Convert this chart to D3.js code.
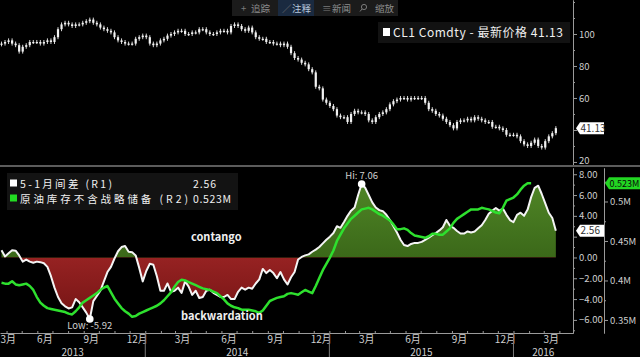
<!DOCTYPE html>
<html>
<head>
<meta charset="utf-8">
<script src="https://cdn.jsdelivr.net/npm/d3@7"></script>
<style>
	body { margin: 0; background: #000; }
	svg { display: block; font-family: "Noto Sans CJK SC", "Noto Sans", sans-serif; }
</style>
</head>
<body>
<svg id="chart" width="640" height="357"></svg>
<script>
// weekly observations, first week ends 2013-03-22
const weekStart = new Date(2013, 2, 22);

// CL1 Comdty weekly close (USD)
const cl1Close = [
	94, 95, 96, 94, 93, 89, 92, 93, 95, 95,
	95, 94, 95, 96, 95, 98, 103, 106, 107, 106,
	105, 106, 106, 107, 108, 109, 107, 106, 104, 103,
	102, 101, 98, 96, 95, 94, 94, 94, 97, 98,
	99, 98, 94, 93, 94, 96, 97, 99, 100, 101,
	102, 102, 100, 100, 101, 101, 103, 103, 101, 100,
	100, 101, 102, 102, 101, 105, 106, 105, 103, 102,
	104, 101, 98, 97, 97, 95, 95, 94, 94, 93,
	94, 92, 88, 85, 84, 82, 81, 78, 76, 67,
	66, 59, 57, 55, 53, 49, 48, 48, 45, 50,
	52, 51, 51, 50, 46, 45, 48, 50, 51, 53,
	56, 58, 59, 60, 60, 59, 60, 60, 60, 60,
	57, 53, 52, 50, 49, 47, 45, 43, 41, 45,
	46, 46, 47, 46, 48, 47, 46, 45, 45, 42,
	42, 41, 40, 37, 37, 37, 36, 33, 31, 30,
	32, 34, 30, 29, 33, 36, 38, 41.13
];
const cl1FirstOpen = 93.5;

// 5-1 month spread (R1)
const spread51 = [
	0.7, 0.1, 0.4, 0.7, 0.65, 0.2, -0.4, -0.2, -0.4, -0.5,
	-0.4, -0.45, -0.55, -0.9, -1.8, -2.9, -3.8, -4.4, -4.7, -4.9,
	-4.8, -4.0, -4.3, -4.8, -5.3, -5.92, -4.2, -3.7, -3.2, -2.3,
	-1.4, -0.9, -0.1, 0.6, 1.0, 1.1, 0.55, 0.5, 0.2, -1.0,
	-2.3, -1.3, -0.6, -0.7, -1.8, -3.2, -3.2, -2.5, -3.3, -3.2,
	-2.9, -3.4, -2.3, -2.8, -3.6, -3.2, -3.9, -3.8, -3.2, -3.1,
	-3.4, -3.6, -3.8, -3.8, -3.6, -4.0, -4.0, -3.3, -2.9, -3.1,
	-2.9, -3.0, -2.5, -2.1, -1.1, -1.5, -1.2, -1.5, -2.0, -1.4,
	-2.1, -2.6, -1.9, -1.4, -0.2, 0.05, 0.2, 0.3, 0.55, 0.75,
	1.0, 1.35, 1.7, 2.0, 2.35, 3.0, 2.85, 3.4, 4.0, 4.5,
	4.8, 6.0, 7.06, 6.7, 6.0, 5.3, 4.8, 4.55, 4.45, 4.1,
	3.6, 3.0, 2.4, 1.7, 1.2, 1.1, 1.3, 1.4, 1.4, 1.5,
	1.7, 1.9, 2.15, 2.35, 2.6, 2.9, 3.6, 3.05, 2.85, 2.55,
	2.3, 2.3, 2.5, 2.4, 2.5, 2.8, 3.1, 3.6, 4.2, 4.5,
	4.75, 4.5, 4.7, 4.1, 3.6, 3.4, 4.1, 4.3, 4.0, 4.6,
	5.8, 6.7, 6.9, 6.1, 5.2, 4.3, 3.8, 2.56
];

// crude stocks ex SPR, shown in M (R2)
const crudeStocks = [
	0.397, 0.396, 0.396, 0.399, 0.395, 0.394, 0.395, 0.396, 0.393, 0.388,
	0.379, 0.372, 0.368, 0.365, 0.364, 0.363, 0.362, 0.361, 0.360, 0.358,
	0.357, 0.361, 0.366, 0.372, 0.375, 0.378, 0.381, 0.384, 0.388, 0.391,
	0.393, 0.385, 0.377, 0.371, 0.365, 0.361, 0.358, 0.354, 0.355, 0.358,
	0.360, 0.362, 0.364, 0.366, 0.368, 0.371, 0.375, 0.380, 0.385, 0.392,
	0.398, 0.401, 0.400, 0.398, 0.396, 0.394, 0.392, 0.390, 0.389, 0.388,
	0.386, 0.384, 0.380, 0.376, 0.371, 0.368, 0.366, 0.365, 0.363, 0.363,
	0.363, 0.362, 0.361, 0.359, 0.362, 0.368, 0.374, 0.376, 0.378, 0.379,
	0.380, 0.383, 0.384, 0.383, 0.382, 0.385, 0.388, 0.386, 0.384, 0.393,
	0.403, 0.413, 0.421, 0.429, 0.438, 0.450, 0.458, 0.466, 0.472, 0.478,
	0.482, 0.486, 0.490, 0.491, 0.492, 0.490, 0.487, 0.484, 0.482, 0.479,
	0.476, 0.471, 0.465, 0.465, 0.466, 0.464, 0.460, 0.457, 0.456, 0.455,
	0.454, 0.456, 0.459, 0.459, 0.458, 0.458, 0.462, 0.466, 0.473, 0.478,
	0.481, 0.484, 0.487, 0.490, 0.490, 0.490, 0.492, 0.491, 0.490, 0.488,
	0.486, 0.485, 0.492, 0.501, 0.503, 0.505, 0.509, 0.515, 0.520, 0.523,
	0.523
];

const quarterLabels = ['3月', '6月', '9月', '12月'];
const yearLabels = ['2013', '2014', '2015', '2016'];
const priceTicks = [20, 40, 60, 80, 100];
const priceMinor = [30, 50, 70, 90, 110, 120];
const r1Ticks = [-6, -4, -2, 0, 2, 4, 6, 8];
const r1Minor = [-7, -5, -3, -1, 1, 3, 5, 7];
const r2Ticks = [0.35, 0.4, 0.45, 0.5];
const r2Minor = [0.375, 0.425, 0.475, 0.525];
const toolbarItems = ['追踪', '注释', '新闻', '缩放'];

const svg = d3.select('#chart');
const plotW = 573;
const top0 = 0, top1 = 165, bot0 = 168, bot1 = 333;
const axisColor = '#9a9a9a', labelColor = '#cfcfcf';

const weekDate = i => d3.timeDay.offset(weekStart, 7 * i);
const lastOf = a => a[a.length - 1];

const x = d3.scaleTime()
	.domain([new Date(2013, 2, 19), new Date(2016, 3, 28)])
	.range([0, plotW]);
const yP = d3.scaleLinear().domain([18.1, 121.25]).range([top1, top0]);
const yR1 = d3.scaleLinear().domain([-7.26, 8.6]).range([bot1, bot0]);
const yR2 = d3.scaleLinear().domain([0.3335, 0.5424]).range([bot1, bot0]);

const defs = svg.append('defs');
defs.append('clipPath').attr('id', 'clipTop')
	.append('rect').attr('x', 0).attr('y', top0).attr('width', plotW).attr('height', top1 - top0);
defs.append('clipPath').attr('id', 'clipPos')
	.append('rect').attr('x', 0).attr('y', bot0).attr('width', plotW).attr('height', yR1(0) - bot0);
defs.append('clipPath').attr('id', 'clipNeg')
	.append('rect').attr('x', 0).attr('y', yR1(0)).attr('width', plotW).attr('height', bot1 - yR1(0));
defs.append('clipPath').attr('id', 'clipBot')
	.append('rect').attr('x', 0).attr('y', bot0).attr('width', plotW).attr('height', bot1 - bot0);

const gPos = defs.append('linearGradient').attr('id', 'gPos')
	.attr('gradientUnits', 'userSpaceOnUse')
	.attr('x1', 0).attr('x2', 0).attr('y1', yR1(7)).attr('y2', yR1(0));
gPos.append('stop').attr('offset', 0).attr('stop-color', '#4f8526');
gPos.append('stop').attr('offset', 1).attr('stop-color', '#3b6819');
const gNeg = defs.append('linearGradient').attr('id', 'gNeg')
	.attr('gradientUnits', 'userSpaceOnUse')
	.attr('x1', 0).attr('x2', 0).attr('y1', yR1(0)).attr('y2', yR1(-6));
gNeg.append('stop').attr('offset', 0).attr('stop-color', '#962222');
gNeg.append('stop').attr('offset', 1).attr('stop-color', '#741414');

// ---- top panel: candles ----
const candles = cl1Close.map((c, i) => ({
	date: weekDate(i),
	open: i ? cl1Close[i - 1] : cl1FirstOpen,
	close: c
}));

const gTop = svg.append('g').attr('clip-path', 'url(#clipTop)');
gTop.selectAll('line.wick').data(candles).join('line')
	.attr('class', 'wick')
	.attr('x1', d => x(d.date)).attr('x2', d => x(d.date))
	.attr('y1', d => yP(Math.max(d.open, d.close)) - 2)
	.attr('y2', d => yP(Math.min(d.open, d.close)) + 2)
	.attr('stroke', '#d8d8d8').attr('stroke-width', 1);
gTop.selectAll('rect.body').data(candles).join('rect')
	.attr('class', 'body')
	.attr('x', d => x(d.date) - 1.1)
	.attr('width', 2.2)
	.attr('y', d => yP(Math.max(d.open, d.close)))
	.attr('height', d => Math.max(1.2, Math.abs(yP(d.open) - yP(d.close))))
	.attr('fill', '#f2f2f2');

// top legend
svg.append('rect').attr('x', 378).attr('y', 22).attr('width', 192).attr('height', 21).attr('fill', '#121212');
svg.append('rect').attr('x', 383).attr('y', 28).attr('width', 7).attr('height', 8).attr('fill', '#fff');
svg.append('text').attr('x', 393).attr('y', 36.5)
	.attr('font-size', 12).attr('fill', '#f0f0f0')
	.attr('textLength', 170).attr('lengthAdjust', 'spacing')
	.text('CL1 Comdty - 最新价格 ' + lastOf(cl1Close).toFixed(2));

// axis helpers
function styleAxis(g) {
	g.select('.domain').attr('stroke', axisColor);
	g.selectAll('.tick line').attr('stroke', axisColor);
	g.selectAll('.tick text').attr('fill', labelColor).attr('font-size', 9.5)
		.attr('font-family', '"Noto Sans CJK SC", sans-serif');
}
// labels that sit under a value tag are not shown
const hideUnder = (fmt, hidden) => d => (hidden.includes(d) ? '' : fmt(d));

const gPriceAxis = svg.append('g').attr('transform', `translate(${plotW},0)`)
	.call(d3.axisRight(yP).tickValues(priceTicks).tickSize(4).tickSizeOuter(0).tickPadding(2)
		.tickFormat(hideUnder(String, [40])))
	.call(styleAxis);
gPriceAxis.selectAll('.tick text').filter(d => d === 20).attr('dy', '0.15em');
svg.append('g').attr('transform', `translate(${plotW},0)`)
	.call(d3.axisRight(yP).tickValues(priceMinor).tickSize(2).tickSizeOuter(0).tickFormat(''))
	.call(styleAxis);

// separator
svg.append('rect').attr('x', 0).attr('y', 165).attr('width', 640).attr('height', 2).attr('fill', '#5c5c5c');

// ---- bottom panel ----
const spreadData = spread51.map((v, i) => ({ date: weekDate(i), v }));
const stockData = crudeStocks.map((v, i) => ({ date: weekDate(i), v }));

const area = d3.area().x(d => x(d.date)).y0(yR1(0)).y1(d => yR1(d.v));
const gBot = svg.append('g').attr('clip-path', 'url(#clipBot)');
gBot.append('path').datum(spreadData).attr('d', area)
	.attr('fill', 'url(#gPos)').attr('clip-path', 'url(#clipPos)');
gBot.append('path').datum(spreadData).attr('d', area)
	.attr('fill', 'url(#gNeg)').attr('clip-path', 'url(#clipNeg)');

gBot.append('path').datum(spreadData)
	.attr('d', d3.line().x(d => x(d.date)).y(d => yR1(d.v)))
	.attr('fill', 'none').attr('stroke', '#f4f4f4').attr('stroke-width', 2)
	.attr('stroke-linejoin', 'round');
gBot.append('path').datum(stockData)
	.attr('d', d3.line().x(d => x(d.date)).y(d => yR2(d.v)))
	.attr('fill', 'none').attr('stroke', '#2ee02e').attr('stroke-width', 2.5)
	.attr('stroke-linejoin', 'round');

// hi / low markers
const hiI = d3.maxIndex(spread51), loI = d3.minIndex(spread51);
const marks = [
	{ d: spreadData[hiI], label: 'Hi: ' + spread51[hiI].toFixed(2), dy: -5.5 },
	{ d: spreadData[loI], label: 'Low: ' + spread51[loI].toFixed(2), dy: 9.5 }
];
marks.forEach(m => {
	svg.append('text').attr('x', x(m.d.date)).attr('y', yR1(m.d.v) + m.dy)
		.attr('text-anchor', 'middle').attr('font-size', 9.5).attr('fill', '#d0d0d0')
		.text(m.label);
	svg.append('circle').attr('cx', x(m.d.date)).attr('cy', yR1(m.d.v)).attr('r', 3.8).attr('fill', '#fff');
});

svg.append('text').attr('x', 191).attr('y', 241).attr('font-size', 11).attr('font-weight', 'bold')
	.attr('fill', '#f0f0f0').text('contango');
svg.append('text').attr('x', 181).attr('y', 320).attr('font-size', 11).attr('font-weight', 'bold')
	.attr('fill', '#f0f0f0').text('backwardation');

// bottom legend
svg.append('rect').attr('x', 7).attr('y', 173).attr('width', 231).attr('height', 37).attr('fill', '#131313');
const legendRows = [
	{ name: '5-1月间差 (R1)', width: 92, value: lastOf(spread51).toFixed(2), color: '#fff', y: 187.5 },
	{ name: '原油库存不含战略储备 (R2)', width: 168, value: lastOf(crudeStocks).toFixed(3) + 'M', color: '#22dd22', y: 202.5 }
];
legendRows.forEach(r => {
	svg.append('rect').attr('x', 10).attr('y', r.y - 8).attr('width', 7).attr('height', 7).attr('fill', r.color);
	svg.append('text').attr('x', 20).attr('y', r.y).attr('font-size', 10.5).attr('fill', '#f0f0f0')
		.attr('textLength', r.width).attr('lengthAdjust', 'spacing').text(r.name);
	svg.append('text').attr('x', 193).attr('y', r.y).attr('font-size', 10.5).attr('fill', '#f0f0f0')
		.attr('textLength', r.value.length > 4 ? 38 : 23).attr('lengthAdjust', 'spacing').text(r.value);
});

// right axes bottom
svg.append('g').attr('transform', `translate(${plotW},0)`)
	.call(d3.axisRight(yR1).tickValues(r1Ticks).tickSize(4).tickSizeOuter(0).tickPadding(2)
		.tickFormat(hideUnder(d3.format('.2f'), [2])))
	.call(styleAxis);
svg.append('g').attr('transform', `translate(${plotW},0)`)
	.call(d3.axisRight(yR1).tickValues(r1Minor).tickSize(2).tickSizeOuter(0).tickFormat(''))
	.call(styleAxis);
svg.append('g').attr('transform', 'translate(604,0)')
	.call(d3.axisRight(yR2).tickValues(r2Ticks).tickSize(4).tickSizeOuter(0).tickPadding(2).tickFormat(d => d + 'M'))
	.call(styleAxis);
svg.append('g').attr('transform', 'translate(604,0)')
	.call(d3.axisRight(yR2).tickValues(r2Minor).tickSize(2).tickSizeOuter(0).tickFormat(''))
	.call(styleAxis);

// value tags
function tag(xp, yp, w, text, bg, fg, fs) {
	const g = svg.append('g');
	g.append('path')
		.attr('d', `M${xp},${yp} L${xp + 4},${yp - 6} H${xp + w} V${yp + 6} H${xp + 4} Z`)
		.attr('fill', bg);
	g.append('text').attr('x', xp + 4.5).attr('y', yp + 3.5).attr('font-size', fs).attr('fill', fg).text(text);
}
tag(576, yP(lastOf(cl1Close)), 28, lastOf(cl1Close).toFixed(2), '#fff', '#333', 10);
tag(576, yR1(lastOf(spread51)), 28, lastOf(spread51).toFixed(2), '#fff', '#333', 10);
tag(605, yR2(lastOf(crudeStocks)), 35, lastOf(crudeStocks).toFixed(3) + 'M', '#22d622', '#0a0a0a', 9);

// ---- x axis ----
const monthBounds = d3.timeMonth.range(new Date(2013, 3, 1), new Date(2016, 4, 1));
svg.append('g').attr('transform', `translate(0,${bot1})`)
	.call(d3.axisBottom(x).tickValues(monthBounds).tickSize(-2).tickSizeOuter(0).tickFormat(''))
	.call(styleAxis);

const quarterMid = d3.timeMonth.range(new Date(2013, 2, 1), new Date(2016, 3, 1), 3)
	.map(d => d3.timeDay.offset(d, 14));
const gMonths = svg.append('g').attr('transform', `translate(0,${bot1})`)
	.call(d3.axisBottom(x).tickValues(quarterMid).tickSize(0).tickPadding(2.5)
		.tickFormat(d => quarterLabels[Math.floor(d.getMonth() / 3)]))
	.call(styleAxis);
gMonths.select('.domain').remove();
gMonths.selectAll('.tick text').attr('font-size', 10);
// first label sits against the left edge
gMonths.selectAll('.tick text').filter(d => x(d) < 8)
	.attr('text-anchor', 'start').attr('x', d => -x(d));

const yearStarts = [2014, 2015, 2016].map(y => new Date(y, 0, 1));
svg.selectAll('line.yearSep').data(yearStarts).join('line')
	.attr('class', 'yearSep')
	.attr('x1', d => x(d)).attr('x2', d => x(d))
	.attr('y1', bot1).attr('y2', 357)
	.attr('stroke', '#7a7a7a');
svg.selectAll('text.year').data(yearLabels).join('text')
	.attr('class', 'year')
	.attr('x', d => {
		const a = Math.max(0, x(new Date(+d, 0, 1)));
		const b = Math.min(plotW, x(new Date(+d + 1, 0, 1)));
		return (a + b) / 2;
	})
	.attr('y', 355.5).attr('text-anchor', 'middle')
	.attr('font-size', 10).attr('fill', labelColor)
	.text(d => d);

// ---- toolbar ----
svg.append('rect').attr('x', 232).attr('y', 0).attr('width', 166).attr('height', 16).attr('fill', '#1b1b1b');
svg.append('rect').attr('x', 278).attr('y', 0).attr('width', 36).attr('height', 16).attr('fill', '#1a2a40');
const toolX = [251, 292, 332, 375];
const toolIcons = ['+', '∕', '≡', ''];
toolbarItems.forEach((t, i) => {
	svg.append('text').attr('x', toolX[i]).attr('y', 11.5).attr('font-size', 9.5)
		.attr('fill', i === 1 ? '#b8c8dc' : '#8c8c8c').text(t);
	if (toolIcons[i]) {
		svg.append('text').attr('x', toolX[i] - 10).attr('y', 11.5).attr('font-size', 9.5)
			.attr('fill', '#7a7a7a').text(toolIcons[i]);
	}
});
svg.append('circle').attr('cx', 364).attr('cy', 7).attr('r', 2.6).attr('fill', 'none').attr('stroke', '#7a7a7a');
svg.append('line').attr('x1', 362).attr('y1', 9).attr('x2', 360).attr('y2', 11.5).attr('stroke', '#7a7a7a');
</script>
</body>
</html>
